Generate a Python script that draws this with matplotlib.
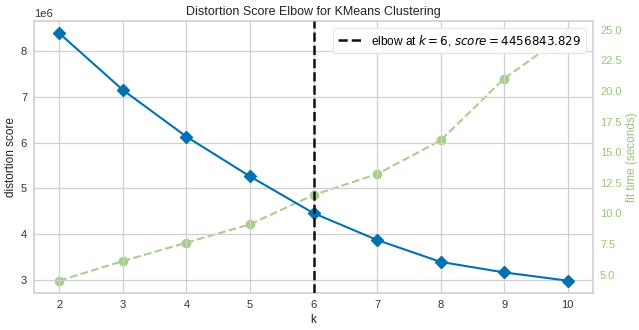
import matplotlib
matplotlib.use("Agg")
import matplotlib.pyplot as plt

k_values = [2, 3, 4, 5, 6, 7, 8, 9, 10]
distortion = [8.39e6, 7.15e6, 6.13e6, 5.26e6, 4456843.829, 3.87e6, 3.39e6, 3.16e6, 2.98e6]
fit_time = [4.5, 6.1, 7.6, 9.1, 11.5, 13.2, 15.95, 21.0, 24.7]
elbow_k = 6
elbow_score = 4456843.829

blue = "#0072B2"
green_line = "#a9cf8e"
green_text = "#98c479"
grid_c = "#d0d0d0"

plt.rcParams['font.family'] = ['Liberation Sans', 'DejaVu Sans']
plt.rcParams['mathtext.fontset'] = 'dejavusans'
fig = plt.figure(figsize=(6.39, 3.30), dpi=100)
ax = fig.add_axes([34/639, 1-293/330, (593-34)/639, (293-21)/330])
ax.plot(k_values, distortion, marker="D", color=blue, lw=1.5, markersize=6.5, zorder=3)
ax.axvline(elbow_k, color="#111111", linestyle="--", lw=1.8,
           label=r"elbow at $k=6$, $score=4456843.829$", zorder=4)
ax.grid(True, color=grid_c, lw=0.9)
ax.set_axisbelow(True)
for s in ax.spines.values():
    s.set_color(grid_c)
    s.set_linewidth(1.2)
ax.tick_params(length=0, labelsize=8, colors="#333333", pad=5)
ax.set_xticks(k_values)
ax.set_xlabel("k", fontsize=8.5, color="#222222", labelpad=3)
ax.set_ylabel("distortion score", fontsize=8.5, color="#222222", labelpad=3)
ax.set_title("Distortion Score Elbow for KMeans Clustering", fontsize=9, color="#222222", pad=4)
ax.yaxis.get_offset_text().set_fontsize(8)

ax2 = ax.twinx()
ax2.plot(k_values, fit_time, marker="o", color=green_line, linestyle="--", lw=1.5, markersize=6, zorder=2)
ax2.grid(False)
for s in ax2.spines.values():
    s.set_visible(False)
ax2.tick_params(length=0, labelsize=8, colors=green_text, pad=5)
ax2.set_ylabel("fit time (seconds)", fontsize=8.5, color=green_text, labelpad=3)
ax2.set_yticks([5.0, 7.5, 10.0, 12.5, 15.0, 17.5, 20.0, 22.5, 25.0])
ax2.set_yticklabels(["5.0", "7.5", "10.0", "12.5", "15.0", "17.5", "20.0", "22.5", "25.0"])

ax.set_zorder(ax2.get_zorder() + 1)
ax.patch.set_visible(False)
ax2.patch.set_visible(True)
ax2.patch.set_facecolor("white")
ax2.set_zorder(0)
leg = ax.legend(loc="upper right", fontsize=8.6, frameon=True, handlelength=2.0,
                borderaxespad=0.6)
leg.get_frame().set_edgecolor("#e6e6e6")
leg.get_frame().set_facecolor("white")
leg.get_frame().set_alpha(0.9)

fig.savefig("out.png", dpi=100)
